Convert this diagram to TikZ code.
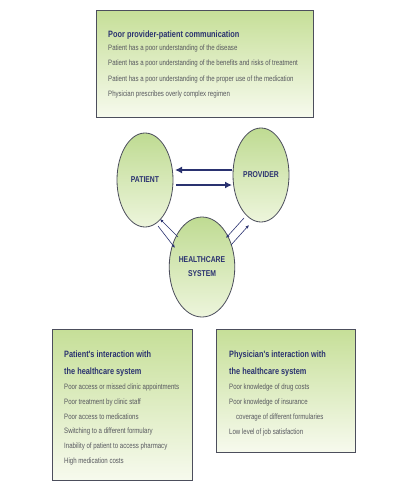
\documentclass[tikz,border=0pt]{standalone}
\usepackage{fontspec}
\usetikzlibrary{shapes.geometric,arrows.meta,calc}
\newfontfamily\cond{Liberation Sans}[FakeStretch=0.78]
\newfontfamily\condt{Liberation Sans}[FakeStretch=0.80]
\definecolor{navy}{HTML}{2A3270}
\definecolor{bodygray}{HTML}{56575E}
\definecolor{edgegray}{HTML}{4C4E5C}
\definecolor{gtop}{HTML}{C6DF98}
\definecolor{gbot}{HTML}{F7FAEE}
\definecolor{etop}{HTML}{BFDB92}
\definecolor{ebot}{HTML}{EDF5DC}
\tikzset{
  ell/.style={ellipse, draw=edgegray, line width=0.8pt, minimum width=56pt,
    minimum height=94pt, inner sep=0pt, top color=etop, bottom color=ebot,
    font=\condt\bfseries\fontsize{8.5}{14}\selectfont, text=navy, align=center},
  box/.style={rectangle, draw=edgegray, line width=1.1pt, inner sep=0pt,
    anchor=north west, top color=gtop, bottom color=gbot},
  txt/.style={anchor=base west, inner sep=0pt, text=bodygray,
    font=\cond\fontsize{7.8}{9}\selectfont},
  ttl/.style={anchor=base west, inner sep=0pt, text=navy,
    font=\condt\bfseries\fontsize{9.2}{11}\selectfont},
  bigarrow/.style={draw=navy, line width=1.8pt, -{Latex[length=7pt,width=7pt]}},
  smallarrow/.style={draw=navy, line width=0.6pt, -{Latex[length=3.5pt,width=3pt]}}
}
\begin{document}
\begin{tikzpicture}[x=1pt,y=-1pt]
\useasboundingbox (0,0) rectangle (413,500);
\fill[white] (0,0) rectangle (413,500);

% boxes
\node[box, minimum width=217pt, minimum height=107pt] (topbox) at (96,10) {};
\node[box, minimum width=140pt, minimum height=151pt] (leftbox) at (52,329) {};
\node[box, minimum width=139pt, minimum height=123pt] (rightbox) at (216,329) {};

% top box text
\node[ttl] (t0) at (108,37.5) {Poor provider-patient communication};
\node[txt] (t1) at (108,50.5) {Patient has a poor understanding of the disease};
\node[txt] (t2) at (108,66) {Patient has a poor understanding of the benefits and risks of treatment};
\node[txt] (t3) at (108,81.5) {Patient has a poor understanding of the proper use of the medication};
\node[txt] (t4) at (108,96.5) {Physician prescribes overly complex regimen};

% left box text
\node[ttl] (l0) at (64,357.5) {Patient's interaction with};
\node[ttl] (l1) at (64,374.5) {the healthcare system};
\node[txt] (l2) at (64,389) {Poor access or missed clinic appointments};
\node[txt] (l3) at (64,404) {Poor treatment by clinic staff};
\node[txt] (l4) at (64,419) {Poor access to medications};
\node[txt] (l5) at (64,433.5) {Switching to a different formulary};
\node[txt] (l6) at (64,448.5) {Inability of patient to access pharmacy};
\node[txt] (l7) at (64,463.5) {High medication costs};

% right box text
\node[ttl] (r0) at (229,357.5) {Physician's interaction with};
\node[ttl] (r1) at (229,374.5) {the healthcare system};
\node[txt] (r2) at (229,389) {Poor knowledge of drug costs};
\node[txt] (r3) at (229,404) {Poor knowledge of insurance};
\node[txt] (r4) at (236,419) {coverage of different formularies};
\node[txt] (r5) at (229,434) {Low level of job satisfaction};

% ellipses
\node[ell] (patient) at (145,180) {PATIENT};
\node[ell] (provider) at (261,175) {PROVIDER};
\node[ell, minimum height=100pt] (health) at (202,267) {HEALTHCARE\\SYSTEM};

% thick arrows
\draw[bigarrow] ($(provider.center)+(-29,-5)$) -- ($(patient.center)+(30,-10)$);
\draw[bigarrow] ($(patient.center)+(31,5)$) -- ($(provider.center)+(-29,10)$);

% thin arrows
\draw[smallarrow] ($(health.center)+(-24,-30)$) -- ($(patient.center)+(15,39)$);
\draw[smallarrow] ($(patient.center)+(13,46)$) -- ($(health.center)+(-27,-19)$);
\draw[smallarrow] ($(provider.center)+(-17,43)$) -- ($(health.center)+(24,-29)$);
\draw[smallarrow] ($(health.center)+(29,-22)$) -- ($(provider.center)+(-12,50)$);
\end{tikzpicture}
\end{document}
